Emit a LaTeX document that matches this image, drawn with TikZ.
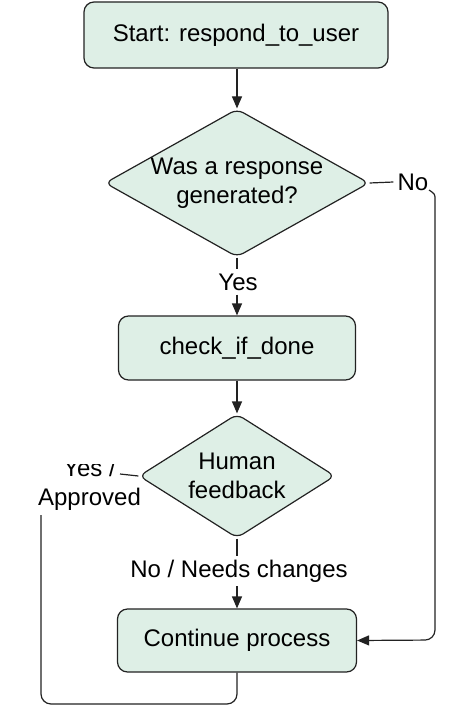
\documentclass[tikz,border=0pt]{standalone}
\usepackage{fontspec}
\setmainfont{Liberation Sans}
\usetikzlibrary{shapes.geometric,arrows.meta}
\definecolor{boxfill}{HTML}{DEEFE6}
\definecolor{linec}{HTML}{222222}
\begin{document}
\begin{tikzpicture}[x=1pt,y=-1pt,
  font=\fontsize{24}{29}\selectfont,
  procbox/.style={draw=linec,fill=boxfill,line width=1.2pt,rounded corners=10pt,inner sep=0pt},
  decbox/.style={draw=linec,fill=boxfill,line width=1.2pt,shape=diamond,rounded corners=7pt,inner sep=0pt},
  conn/.style={draw=linec,line width=1.2pt},
  arr/.style={conn,-{Triangle[length=12pt,width=10pt]}},
  lab/.style={inner sep=4pt,align=center}]
\useasboundingbox (0,0) rectangle (474,711);
% nodes
\node[procbox,minimum width=304pt,minimum height=66pt] (start) at (236,35) {Start: respond\_to\_user};
\node[decbox,minimum width=264pt,minimum height=148pt,
  label={[align=center]center:{Was a response\\generated?}}] (d1) at (237,183) {};
\node[procbox,minimum width=237pt,minimum height=64pt] (chk) at (237,348) {check\_if\_done};
\node[decbox,minimum width=196pt,minimum height=124pt,
  label={[align=center]center:{Human\\feedback}}] (d2) at (237,476) {};
\node[procbox,minimum width=239pt,minimum height=63pt] (cont) at (237,640.5) {Continue process};
% labels
\node[lab] (yes) at (238,282) {Yes};
\node[lab] (no) at (413,182) {No};
\node[lab] (nn) at (239,571) {No / Needs changes};
\begin{scope}
  \clip (0,464) rectangle (474,711);
  \node[lab] (ya) at (89.5,484.4) {Yes /\\Approved};
\end{scope}
\coordinate (yaend) at (120,474);
\coordinate (yastart) at (41,515);
\coordinate (bot) at (0,704);
\coordinate (nostart) at (429,190);
% connectors
\draw[arr] (start.south -| d1.north) -- (d1.north);
\draw[conn] (d1.south) -- (d1.south |- yes.north);
\draw[arr] (d1.south |- yes.south) -- (chk.north);
\draw[conn] (d1.east) -- (no.west);
\draw[arr,rounded corners=10pt] (nostart) .. controls (435,194) .. (435,210) -- (435,640) -- (cont.east);
\draw[arr] (chk.south) -- (d2.north);
\draw[conn] (d2.south) -- (d2.south |- nn.north);
\draw[arr] (d2.south |- nn.south) -- (cont.north);
\draw[conn] (d2.west) -- (yaend);
\draw[conn,rounded corners=10pt] (yastart) -- (yastart |- bot) -| (cont.south);
\end{tikzpicture}
\end{document}
